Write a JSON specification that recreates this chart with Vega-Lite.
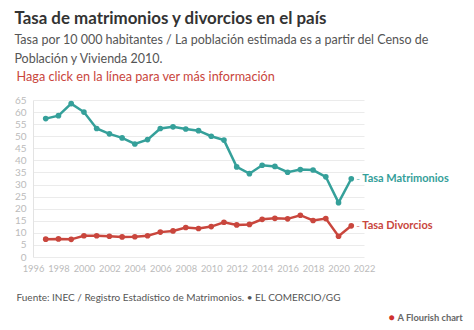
{
  "$schema": "https://vega.github.io/schema/vega-lite/v6.json",
  "width": 331,
  "height": 157,
  "autosize": {"type": "none"},
  "padding": {"left": 33, "top": 100, "right": 110, "bottom": 73},
  "background": "white",
  "config": {
    "font": "Lato",
    "view": {"stroke": null},
    "axis": {"labelFont": "Lato", "titleFont": "Lato"}
  },
  "title": {
    "text": "Tasa de matrimonios y divorcios en el país",
    "subtitle": ["Tasa por 10 000 habitantes / La población estimada es a partir del Censo de", "Población y Vivienda 2010."],
    "anchor": "start",
    "dx": 0,
    "offset": 4,
    "font": "Lato",
    "fontSize": 16.9,
    "fontWeight": "bold",
    "color": "#333333",
    "subtitleFont": "Lato",
    "subtitleFontSize": 12.5,
    "subtitleColor": "#555555",
    "subtitlePadding": 6,
    "subtitleLineHeight": 19
  },
  "data": {
    "values": [
      {"year": 1997, "serie": "Tasa Matrimonios", "value": 57.3},
      {"year": 1998, "serie": "Tasa Matrimonios", "value": 58.5},
      {"year": 1999, "serie": "Tasa Matrimonios", "value": 63.5},
      {"year": 2000, "serie": "Tasa Matrimonios", "value": 60.0},
      {"year": 2001, "serie": "Tasa Matrimonios", "value": 53.2},
      {"year": 2002, "serie": "Tasa Matrimonios", "value": 51.0},
      {"year": 2003, "serie": "Tasa Matrimonios", "value": 49.3},
      {"year": 2004, "serie": "Tasa Matrimonios", "value": 46.8},
      {"year": 2005, "serie": "Tasa Matrimonios", "value": 48.6},
      {"year": 2006, "serie": "Tasa Matrimonios", "value": 53.2},
      {"year": 2007, "serie": "Tasa Matrimonios", "value": 53.9},
      {"year": 2008, "serie": "Tasa Matrimonios", "value": 53.0},
      {"year": 2009, "serie": "Tasa Matrimonios", "value": 52.3},
      {"year": 2010, "serie": "Tasa Matrimonios", "value": 50.0},
      {"year": 2011, "serie": "Tasa Matrimonios", "value": 48.4},
      {"year": 2012, "serie": "Tasa Matrimonios", "value": 37.3},
      {"year": 2013, "serie": "Tasa Matrimonios", "value": 34.5},
      {"year": 2014, "serie": "Tasa Matrimonios", "value": 38.0},
      {"year": 2015, "serie": "Tasa Matrimonios", "value": 37.5},
      {"year": 2016, "serie": "Tasa Matrimonios", "value": 35.1},
      {"year": 2017, "serie": "Tasa Matrimonios", "value": 36.2},
      {"year": 2018, "serie": "Tasa Matrimonios", "value": 36.0},
      {"year": 2019, "serie": "Tasa Matrimonios", "value": 33.2},
      {"year": 2020, "serie": "Tasa Matrimonios", "value": 22.5},
      {"year": 2021, "serie": "Tasa Matrimonios", "value": 32.4},
      {"year": 1997, "serie": "Tasa Divorcios", "value": 7.4},
      {"year": 1998, "serie": "Tasa Divorcios", "value": 7.5},
      {"year": 1999, "serie": "Tasa Divorcios", "value": 7.3},
      {"year": 2000, "serie": "Tasa Divorcios", "value": 8.8},
      {"year": 2001, "serie": "Tasa Divorcios", "value": 8.8},
      {"year": 2002, "serie": "Tasa Divorcios", "value": 8.6},
      {"year": 2003, "serie": "Tasa Divorcios", "value": 8.3},
      {"year": 2004, "serie": "Tasa Divorcios", "value": 8.4},
      {"year": 2005, "serie": "Tasa Divorcios", "value": 8.8},
      {"year": 2006, "serie": "Tasa Divorcios", "value": 10.3},
      {"year": 2007, "serie": "Tasa Divorcios", "value": 10.8},
      {"year": 2008, "serie": "Tasa Divorcios", "value": 12.2},
      {"year": 2009, "serie": "Tasa Divorcios", "value": 11.8},
      {"year": 2010, "serie": "Tasa Divorcios", "value": 12.6},
      {"year": 2011, "serie": "Tasa Divorcios", "value": 14.4},
      {"year": 2012, "serie": "Tasa Divorcios", "value": 13.3},
      {"year": 2013, "serie": "Tasa Divorcios", "value": 13.5},
      {"year": 2014, "serie": "Tasa Divorcios", "value": 15.6},
      {"year": 2015, "serie": "Tasa Divorcios", "value": 16.0},
      {"year": 2016, "serie": "Tasa Divorcios", "value": 15.8},
      {"year": 2017, "serie": "Tasa Divorcios", "value": 17.3},
      {"year": 2018, "serie": "Tasa Divorcios", "value": 15.1},
      {"year": 2019, "serie": "Tasa Divorcios", "value": 15.9},
      {"year": 2020, "serie": "Tasa Divorcios", "value": 8.6},
      {"year": 2021, "serie": "Tasa Divorcios", "value": 12.9}
    ]
  },
  "resolve": {"axis": {"x": "independent", "y": "independent"}},
  "layer": [
    {
      "mark": {"type": "line", "strokeWidth": 2.5, "point": {"filled": true, "size": 32}},
      "encoding": {
        "x": {
          "field": "year", "type": "quantitative",
          "scale": {"domain": [1996, 2022], "nice": false, "zero": false},
          "axis": {
            "orient": "bottom",
            "values": [1996, 1998, 2000, 2002, 2004, 2006, 2008, 2010, 2012, 2014, 2016, 2018, 2020, 2022],
            "format": "d",
            "grid": false, "domain": false, "ticks": false,
            "labelOverlap": false, "labelFlush": false, "labelBound": false,
            "labelColor": "#bbbbbb", "labelFontSize": 9.3, "labelPadding": 7,
            "title": "Fuente: INEC / Registro Estadístico de Matrimonios. • EL COMERCIO/GG",
            "titleFontSize": 10, "titleFontWeight": "normal", "titleColor": "#555555",
            "titleAlign": "left", "titleAnchor": "start", "titleBaseline": "alphabetic",
            "titleX": -17, "titleY": 43
          }
        },
        "y": {
          "field": "value", "type": "quantitative",
          "scale": {"domain": [0, 65], "nice": false},
          "axis": {
            "orient": "left",
            "values": [0, 5, 10, 15, 20, 25, 30, 35, 40, 45, 50, 55, 60, 65],
            "grid": true, "gridColor": "#ebebeb", "gridWidth": 1,
            "domain": true, "domainColor": "#e3e3e3",
            "ticks": false, "labelOverlap": false,
            "labelColor": "#bbbbbb", "labelFontSize": 10, "labelPadding": 7,
            "title": "Haga click en la línea para ver más información",
            "titleAngle": 0, "titleAlign": "left", "titleBaseline": "alphabetic",
            "titleFontSize": 12.7, "titleFontWeight": "normal", "titleColor": "#c9463d",
            "titleX": -17, "titleY": -20
          }
        },
        "color": {
          "field": "serie", "type": "nominal",
          "scale": {"domain": ["Tasa Matrimonios", "Tasa Divorcios"], "range": ["#35a09a", "#c9463d"]},
          "legend": null
        }
      }
    },
    {
      "transform": [{"filter": "datum.year == 2021"}],
      "mark": {"type": "text", "align": "left", "baseline": "middle", "dx": 11, "fontSize": 11, "fontWeight": "bold"},
      "encoding": {
        "x": {
          "field": "year", "type": "quantitative",
          "axis": {
            "orient": "top", "labels": false, "ticks": false, "domain": false, "grid": false,
            "title": "●", "titleColor": "#d0312d", "titleFontSize": 10,
            "titleAlign": "center", "titleBaseline": "middle",
            "titleX": 358, "titleY": 217
          }
        },
        "y": {
          "field": "value", "type": "quantitative",
          "axis": {
            "orient": "right", "labels": false, "ticks": false, "domain": false, "grid": false,
            "title": "A Flourish chart", "titleAngle": 0, "titleAlign": "left", "titleBaseline": "middle",
            "titleFontSize": 9.3, "titleFontWeight": "bold", "titleColor": "#666666",
            "titleX": 33, "titleY": 217
          }
        },
        "text": {"field": "serie"},
        "color": {"field": "serie", "type": "nominal", "legend": null}
      }
    },
    {
      "transform": [{"filter": "datum.year == 2021"}],
      "mark": {"type": "text", "align": "left", "baseline": "middle", "dx": 5, "fontSize": 10, "text": "-", "opacity": 0.7},
      "encoding": {
        "x": {"field": "year", "type": "quantitative", "axis": null},
        "y": {"field": "value", "type": "quantitative", "axis": null},
        "color": {"field": "serie", "type": "nominal", "legend": null}
      }
    }
  ]
}
